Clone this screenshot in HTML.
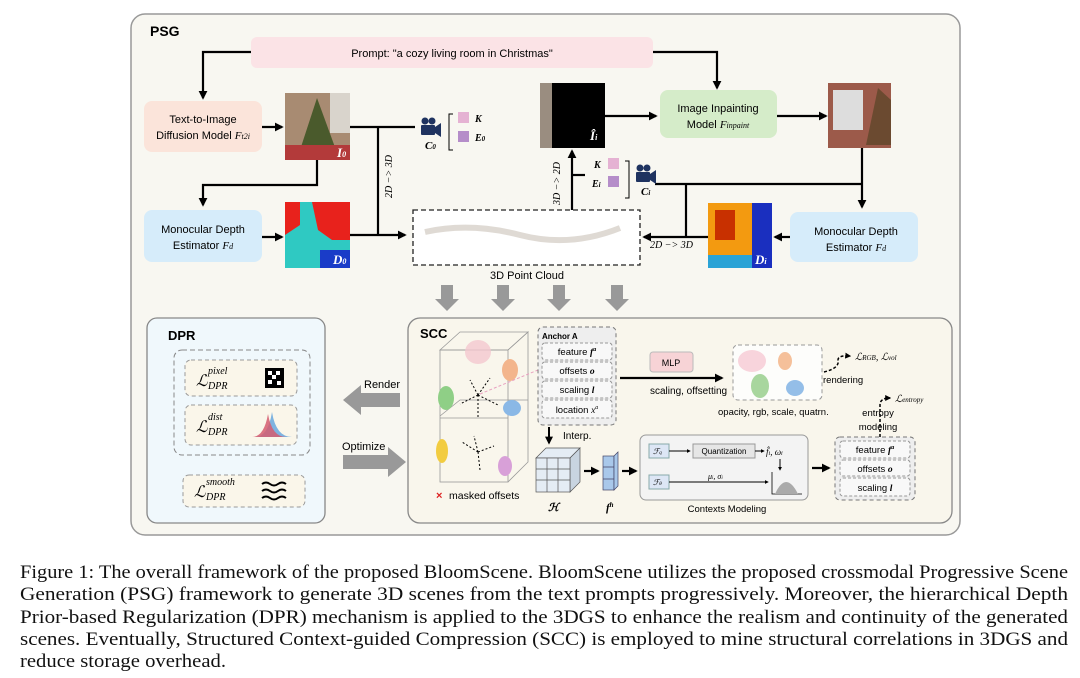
<!DOCTYPE html>
<html><head><meta charset="utf-8"><style>
html,body{margin:0;padding:0;background:#fff;width:1080px;height:678px;overflow:hidden}
svg{display:block}
.s{font-family:"Liberation Sans",sans-serif}
.r{font-family:"Liberation Serif",serif}
</style></head><body>
<svg width="1080" height="678" viewBox="0 0 1080 678" xmlns="http://www.w3.org/2000/svg">
<defs>
<marker id="a" viewBox="0 0 10 10" refX="8" refY="5" markerWidth="4" markerHeight="4" orient="auto"><path d="M0,0L10,5L0,10z" fill="#000"/></marker>
</defs>
<rect x="131" y="14" width="829" height="521" rx="14" fill="#f8f7f1" stroke="#999" stroke-width="1.5"/>
<text x="150" y="36" class="s" font-size="14" font-weight="bold">PSG</text>
<rect x="251" y="37" width="402" height="31" rx="6" fill="#fbe3e6"/>
<text x="452" y="57" class="s" font-size="11" text-anchor="middle">Prompt: "a cozy living room in Christmas"</text>
<g stroke="#000" stroke-width="2.2" fill="none">
<path d="M251,52H203V98" marker-end="url(#a)"/>
<path d="M653,52H717V88" marker-end="url(#a)"/>
<path d="M262,127H282" marker-end="url(#a)"/>
<path d="M350,127H415"/>
<path d="M378,127V235"/>
<path d="M350,235H405" marker-end="url(#a)"/>
<path d="M317,160V185H203V205" marker-end="url(#a)"/>
<path d="M262,237H282" marker-end="url(#a)"/>
<path d="M572,210V151" marker-end="url(#a)"/>
<path d="M605,116H656" marker-end="url(#a)"/>
<path d="M777,116H826" marker-end="url(#a)"/>
<path d="M862,148V207" marker-end="url(#a)"/>
<path d="M655,184H862"/>
<path d="M686,184V237"/>
<path d="M708,237H644" marker-end="url(#a)"/>
<path d="M790,237H775" marker-end="url(#a)"/>
<path d="M572,175H585"/>
</g>
<rect x="144" y="101" width="118" height="51" rx="8" fill="#fbe4da"/>
<text x="203" y="123" class="s" font-size="11" text-anchor="middle">Text-to-Image</text>
<text x="203" y="139" class="s" font-size="11" text-anchor="middle">Diffusion Model <tspan class="r" font-style="italic">F</tspan><tspan font-size="8" class="r" font-style="italic">t2i</tspan></text>
<rect x="144" y="210" width="118" height="52" rx="8" fill="#d6ecfa"/>
<text x="203" y="233" class="s" font-size="11" text-anchor="middle">Monocular Depth</text>
<text x="203" y="249" class="s" font-size="11" text-anchor="middle">Estimator <tspan class="r" font-style="italic">F<tspan font-size="8">d</tspan></tspan></text>
<rect x="790" y="212" width="128" height="50" rx="8" fill="#d6ecfa"/>
<text x="856" y="235" class="s" font-size="11" text-anchor="middle">Monocular Depth</text>
<text x="856" y="251" class="s" font-size="11" text-anchor="middle">Estimator <tspan class="r" font-style="italic">F<tspan font-size="8">d</tspan></tspan></text>
<rect x="660" y="90" width="117" height="48" rx="8" fill="#d5ecc9"/>
<text x="718" y="112" class="s" font-size="11" text-anchor="middle">Image Inpainting</text>
<text x="718" y="128" class="s" font-size="11" text-anchor="middle">Model <tspan class="r" font-style="italic">F<tspan font-size="8">inpaint</tspan></tspan></text>
<rect x="285" y="93" width="65" height="67" fill="#a88b72"/>
<path d="M317,98L300,150H336Z" fill="#4a5a2c"/><rect x="285" y="145" width="65" height="15" fill="#b33a3a"/><rect x="330" y="93" width="20" height="40" fill="#d9d4cc"/>
<text x="337" y="157" class="r" font-style="italic" font-weight="bold" font-size="13" fill="#fff">I<tspan font-size="8">0</tspan></text>
<rect x="285" y="202" width="65" height="66" fill="#e8221c"/>
<path d="M300,202L312,202L318,230L332,240L350,240V268H285V235L300,225Z" fill="#2fc9c2"/><rect x="320" y="250" width="30" height="18" fill="#1a3cc8"/>
<text x="333" y="264" class="r" font-style="italic" font-weight="bold" font-size="13" fill="#fff">D<tspan font-size="8">0</tspan></text>
<rect x="540" y="83" width="65" height="65" fill="#000"/><rect x="540" y="83" width="12" height="65" fill="#9a8d80"/>
<text x="590" y="140" class="r" font-style="italic" font-weight="bold" font-size="13" fill="#fff">Î<tspan font-size="8">i</tspan></text>
<rect x="828" y="83" width="63" height="65" fill="#9c5a4a"/><rect x="833" y="90" width="30" height="40" fill="#ddd"/><path d="M878,88L866,145H891V100Z" fill="#6b4a30"/>
<rect x="708" y="203" width="64" height="65" fill="#f39a10"/><rect x="752" y="203" width="20" height="65" fill="#1a2fbf"/><rect x="708" y="255" width="44" height="13" fill="#2aa3d6"/><rect x="715" y="210" width="20" height="30" fill="#c83000"/>
<text x="755" y="264" class="r" font-style="italic" font-weight="bold" font-size="13" fill="#fff">D<tspan font-size="8">i</tspan></text>
<g fill="#1f3360"><rect x="421" y="125" width="14" height="10" rx="1"/><circle cx="425" cy="121" r="3.5"/><circle cx="432" cy="121" r="3.5"/><path d="M435,127L441,123V137L435,133Z"/></g>
<text x="425" y="149" class="r" font-style="italic" font-weight="bold" font-size="11">C<tspan font-size="7">0</tspan></text>
<path d="M453,114H449V150H453" stroke="#000" fill="none"/>
<rect x="458" y="112" width="11" height="11" fill="#e5b2d3"/><rect x="458" y="131" width="11" height="11" fill="#b58dc9"/>
<text x="475" y="122" class="r" font-style="italic" font-weight="bold" font-size="10">K</text>
<text x="475" y="141" class="r" font-style="italic" font-weight="bold" font-size="10">E<tspan font-size="7">0</tspan></text>
<g fill="#1f3360"><rect x="636" y="172" width="14" height="10" rx="1"/><circle cx="640" cy="168" r="3.5"/><circle cx="647" cy="168" r="3.5"/><path d="M650,174L656,170V184L650,180Z"/></g>
<text x="641" y="195" class="r" font-style="italic" font-weight="bold" font-size="11">C<tspan font-size="7">i</tspan></text>
<path d="M625,161H629V198H625" stroke="#000" fill="none"/>
<rect x="608" y="158" width="11" height="11" fill="#e5b2d3"/><rect x="608" y="176" width="11" height="11" fill="#b58dc9"/>
<text x="594" y="168" class="r" font-style="italic" font-weight="bold" font-size="10">K</text>
<text x="592" y="187" class="r" font-style="italic" font-weight="bold" font-size="10">E<tspan font-size="7">i</tspan></text>
<text transform="translate(392,198) rotate(-90)" class="r" font-style="italic" font-size="10">2D −&gt; 3D</text>
<text transform="translate(560,205) rotate(-90)" class="r" font-style="italic" font-size="10">3D −&gt; 2D</text>
<text x="650" y="248" class="r" font-style="italic" font-size="10">2D −&gt; 3D</text>
<rect x="413" y="210" width="227" height="55" fill="#fff" stroke="#222" stroke-width="1.3" stroke-dasharray="5,3"/>
<path d="M425,232Q470,222 520,235T620,228" stroke="#c9c2b8" stroke-width="6" fill="none" opacity=".6"/>
<text x="527" y="279" class="s" font-size="11" text-anchor="middle">3D Point Cloud</text>
<g fill="#999"><path d="M441,285h12v14h6l-12,12l-12,-12h6z"/><path d="M497,285h12v14h6l-12,12l-12,-12h6z"/><path d="M553,285h12v14h6l-12,12l-12,-12h6z"/><path d="M611,285h12v14h6l-12,12l-12,-12h6z"/></g>
<rect x="147" y="318" width="178" height="205" rx="10" fill="#f0f8fc" stroke="#888" stroke-width="1.3"/>
<text x="168" y="340" class="s" font-size="13" font-weight="bold">DPR</text>
<rect x="174" y="350" width="136" height="105" rx="8" fill="none" stroke="#888" stroke-dasharray="5,3"/>
<rect x="185" y="360" width="112" height="36" rx="6" fill="#faf6ea" stroke="#999" stroke-dasharray="4,3"/>
<rect x="185" y="405" width="112" height="40" rx="6" fill="#faf6ea" stroke="#999" stroke-dasharray="4,3"/>
<rect x="183" y="475" width="122" height="32" rx="6" fill="#faf6ea" stroke="#999" stroke-dasharray="4,3"/>
<g class="r" font-style="italic">
<text x="196" y="386" font-size="16">ℒ</text><text x="208" y="374" font-size="10">pixel</text><text x="208" y="389" font-size="10">DPR</text>
<text x="196" y="432" font-size="16">ℒ</text><text x="208" y="420" font-size="10">dist</text><text x="208" y="435" font-size="10">DPR</text>
<text x="194" y="497" font-size="16">ℒ</text><text x="206" y="485" font-size="10">smooth</text><text x="206" y="500" font-size="10">DPR</text>
</g>
<rect x="265" y="368" width="19" height="20" fill="#000"/><g fill="#fff"><rect x="268" y="371" width="4" height="4"/><rect x="276" y="371" width="4" height="4"/><rect x="272" y="375" width="4" height="4"/><rect x="268" y="380" width="4" height="4"/><rect x="277" y="381" width="4" height="4"/></g>
<path d="M255,437Q268,437 272,412Q276,437 292,437Z" fill="#7eb3e0"/><path d="M252,437Q264,437 268,414Q272,437 286,437Z" fill="#d45c70" opacity=".85"/>
<g stroke="#000" stroke-width="2" fill="none"><path d="M262,484q4,-3 8,0t8,0t8,0"/><path d="M262,491q4,-3 8,0t8,0t8,0"/><path d="M262,498q4,-3 8,0t8,0t8,0"/></g>
<path d="M400,393H361V385L343,400L361,415V407H400Z" fill="#999"/>
<text x="364" y="388" class="s" font-size="11">Render</text>
<path d="M343,455H388V447L406,462L388,477V469H343Z" fill="#999"/>
<text x="342" y="450" class="s" font-size="11">Optimize</text>
<rect x="408" y="318" width="544" height="205" rx="12" fill="#f9f6ec" stroke="#888" stroke-width="1.3"/>
<text x="420" y="338" class="s" font-size="13" font-weight="bold">SCC</text>
<g fill="none" stroke="#999" stroke-width="0.8"><path d="M440,350L460,332H528L508,350Z"/><rect x="440" y="350" width="68" height="132"/><path d="M508,350L528,332V462L508,482"/><path d="M440,416L460,400H528"/><path d="M440,418H508"/></g>
<ellipse cx="478" cy="352" rx="13" ry="12" fill="#f4c8cf" opacity=".8"/><ellipse cx="510" cy="370" rx="8" ry="11" fill="#f3b58c"/><ellipse cx="446" cy="398" rx="8" ry="12" fill="#8fcf86"/><ellipse cx="512" cy="408" rx="9" ry="8" fill="#8ab8e6"/><ellipse cx="442" cy="451" rx="6" ry="12" fill="#f2cc40"/><ellipse cx="505" cy="466" rx="7" ry="10" fill="#d8a0d8"/>
<g stroke="#000" stroke-width="1" stroke-dasharray="2,2" fill="none"><path d="M478,395L460,404M478,395L498,405M478,395L490,378M478,395L478,418M478,395L470,380M478,452L462,442M478,452L494,446M478,452L480,470M478,452L474,436"/></g>
<path d="M480,394L538,370" stroke="#e8a0c0" stroke-dasharray="3,2"/>
<text x="436" y="499" class="s" font-size="11" fill="#d22" font-weight="bold">×</text>
<text x="449" y="499" class="s" font-size="10.5">masked offsets</text>
<rect x="538" y="327" width="78" height="98" rx="5" fill="#eee" stroke="#777" stroke-dasharray="4,3"/>
<text x="542" y="339" class="s" font-size="8" font-weight="bold">Anchor A</text>
<g fill="#f8f8f8" stroke="#999" stroke-dasharray="3,2"><rect x="542" y="343" width="70" height="17" rx="3"/><rect x="542" y="362" width="70" height="17" rx="3"/><rect x="542" y="381" width="70" height="17" rx="3"/><rect x="542" y="400" width="70" height="18" rx="3"/></g>
<g class="s" font-size="9.5" text-anchor="middle"><text x="577" y="355">feature <tspan class="r" font-style="italic" font-weight="bold">f<tspan font-size="6" dy="-4">a</tspan></tspan></text><text x="577" y="374">offsets <tspan class="r" font-style="italic" font-weight="bold">o</tspan></text><text x="577" y="393">scaling <tspan class="r" font-style="italic" font-weight="bold">l</tspan></text><text x="577" y="413">location <tspan class="r" font-style="italic">x<tspan font-size="6" dy="-4">a</tspan></tspan></text></g>
<rect x="650" y="352" width="43" height="20" rx="3" fill="#f7d3d6" stroke="#bbb"/>
<text x="671" y="366" class="s" font-size="9" text-anchor="middle">MLP</text>
<path d="M620,378H722" stroke="#000" stroke-width="2.2" marker-end="url(#a)"/>
<text x="650" y="394" class="s" font-size="10">scaling, offsetting</text>
<rect x="733" y="345" width="89" height="55" rx="5" fill="#fdfdfb" stroke="#999" stroke-dasharray="4,3"/>
<ellipse cx="752" cy="361" rx="14" ry="11" fill="#f8d4dc"/><ellipse cx="785" cy="361" rx="7" ry="9" fill="#f5c09a"/><ellipse cx="760" cy="386" rx="9" ry="12" fill="#a8d69e"/><ellipse cx="795" cy="388" rx="9" ry="8" fill="#94bee8"/>
<text x="718" y="415" class="s" font-size="9.5">opacity, rgb, scale, quatrn.</text>
<path d="M824,372Q840,368 838,360Q838,355 850,356" stroke="#000" stroke-width="1.5" stroke-dasharray="3,2" fill="none" marker-end="url(#a)"/>
<text x="855" y="360" class="r" font-style="italic" font-size="10">ℒ<tspan font-size="7">RGB</tspan>, ℒ<tspan font-size="7">vol</tspan></text>
<text x="823" y="383" class="s" font-size="9.5">rendering</text>
<path d="M880,437V405Q880,398 890,398" stroke="#000" stroke-width="1.5" stroke-dasharray="3,2" fill="none" marker-end="url(#a)"/>
<text x="895" y="402" class="r" font-style="italic" font-size="10">ℒ<tspan font-size="7">entropy</tspan></text>
<text x="878" y="416" class="s" font-size="9.5" text-anchor="middle">entropy</text>
<text x="878" y="430" class="s" font-size="9.5" text-anchor="middle">modeling</text>
<path d="M549,427V443" stroke="#000" stroke-width="2" marker-end="url(#a)"/>
<text x="563" y="439" class="s" font-size="10">Interp.</text>
<g fill="#e4ecf4" stroke="#555" stroke-width="0.7"><path d="M536,458L546,448H580L570,458Z"/><path d="M570,458L580,448V482L570,492Z" fill="#c8d4e0"/><rect x="536" y="458" width="34" height="34"/><path d="M547,458V492M558,458V492M536,469H570M536,480H570"/></g>
<text x="548" y="511" class="r" font-style="italic" font-weight="bold" font-size="11">ℋ</text>
<path d="M584,471H598" stroke="#000" stroke-width="2.2" marker-end="url(#a)"/>
<g fill="#a9c8ea" stroke="#446" stroke-width="0.7"><rect x="603" y="456" width="11" height="34"/><path d="M603,467H614M603,479H614"/><path d="M614,456L618,452V486L614,490Z"/></g>
<text x="606" y="511" class="r" font-style="italic" font-weight="bold" font-size="11">f<tspan font-size="7" dy="-4">h</tspan></text>
<path d="M622,471H636" stroke="#000" stroke-width="2.2" marker-end="url(#a)"/>
<rect x="640" y="435" width="168" height="65" rx="6" fill="#f3f3f3" stroke="#999"/>
<rect x="649" y="444" width="20" height="14" fill="#dde6f5" stroke="#8aa"/><text x="653" y="454" class="r" font-style="italic" font-size="8">ℱ<tspan font-size="5">q</tspan></text>
<rect x="649" y="475" width="20" height="14" fill="#dde6f5" stroke="#8aa"/><text x="653" y="485" class="r" font-style="italic" font-size="8">ℱ<tspan font-size="5">θ</tspan></text>
<rect x="693" y="444" width="62" height="14" fill="#e6e6e6" stroke="#999"/><text x="724" y="454" class="s" font-size="8" text-anchor="middle">Quantization</text>
<g stroke="#000" stroke-width="1" fill="none"><path d="M669,451H690" marker-end="url(#a)"/><path d="M755,451H764" marker-end="url(#a)"/><path d="M669,482H768" marker-end="url(#a)"/><path d="M780,459V470" marker-end="url(#a)"/></g>
<text x="766" y="455" class="r" font-style="italic" font-size="9">f̂<tspan font-size="6">i</tspan>, ω<tspan font-size="6">i</tspan></text>
<text x="708" y="479" class="r" font-style="italic" font-size="8">μ<tspan font-size="5">i</tspan>, σ<tspan font-size="5">i</tspan></text>
<path d="M772,472V494H802" stroke="#000" fill="none" stroke-width="0.8"/><path d="M775,494Q786,470 798,494" fill="#aaa"/>
<text x="727" y="512" class="s" font-size="9.5" text-anchor="middle">Contexts Modeling</text>
<path d="M812,468H829" stroke="#000" stroke-width="2.2" marker-end="url(#a)"/>
<rect x="835" y="437" width="80" height="63" rx="5" fill="#eee" stroke="#777" stroke-dasharray="4,3"/>
<g fill="#f8f8f8" stroke="#999" stroke-dasharray="3,2"><rect x="840" y="441" width="70" height="17" rx="3"/><rect x="840" y="460" width="70" height="16" rx="3"/><rect x="840" y="478" width="70" height="18" rx="3"/></g>
<g class="s" font-size="9.5" text-anchor="middle"><text x="875" y="453">feature <tspan class="r" font-style="italic" font-weight="bold">f<tspan font-size="6" dy="-4">a</tspan></tspan></text><text x="875" y="472">offsets <tspan class="r" font-style="italic" font-weight="bold">o</tspan></text><text x="875" y="491">scaling <tspan class="r" font-style="italic" font-weight="bold">l</tspan></text></g>
<g class="r" font-size="19" fill="#111">
<text x="20" y="578" textLength="1048" lengthAdjust="spacingAndGlyphs">Figure 1: The overall framework of the proposed BloomScene. BloomScene utilizes the proposed crossmodal Progressive Scene</text>
<text x="20" y="600" textLength="1048" lengthAdjust="spacingAndGlyphs">Generation (PSG) framework to generate 3D scenes from the text prompts progressively. Moreover, the hierarchical Depth</text>
<text x="20" y="623" textLength="1048" lengthAdjust="spacingAndGlyphs">Prior-based Regularization (DPR) mechanism is applied to the 3DGS to enhance the realism and continuity of the generated</text>
<text x="20" y="645" textLength="1048" lengthAdjust="spacingAndGlyphs">scenes. Eventually, Structured Context-guided Compression (SCC) is employed to mine structural correlations in 3DGS and</text>
<text x="20" y="667" textLength="206" lengthAdjust="spacingAndGlyphs">reduce storage overhead.</text>
</g>
</svg>
</body></html>
